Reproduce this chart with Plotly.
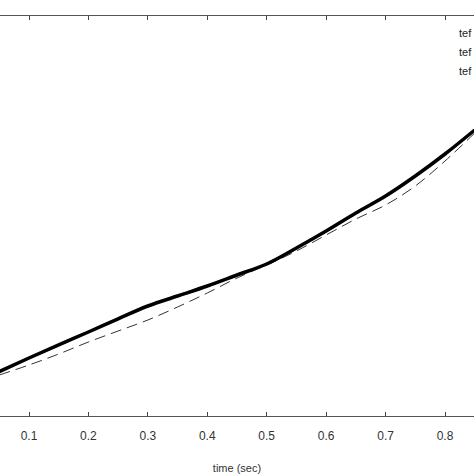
import plotly.graph_objects as go

# time axis (sec)
time_s = [0.05, 0.10, 0.15, 0.20, 0.25, 0.30, 0.35, 0.40, 0.45, 0.50,
          0.55, 0.60, 0.65, 0.70, 0.75, 0.80, 0.85]
# series values (arbitrary units)
series_solid = [0.111, 0.145, 0.178, 0.210, 0.243, 0.275, 0.300, 0.325, 0.3525, 0.380,
                0.420, 0.4625, 0.5075, 0.550, 0.600, 0.655, 0.715]
series_dashed = [0.1025, 0.1275, 0.155, 0.185, 0.2125, 0.240, 0.2725, 0.3075, 0.345, 0.3775,
                 0.4125, 0.4525, 0.4925, 0.5275, 0.575, 0.6375, 0.7075]
series_dotted = [0.114, 0.148, 0.181, 0.213, 0.246, 0.278, 0.303, 0.328, 0.355, 0.382,
                 0.423, 0.466, 0.511, 0.554, 0.604, 0.659, 0.718]
legend_names = ["tef", "tef", "tef"]
legend_y = [0.9575, 0.91, 0.8625]
tick_vals = [0.1, 0.2, 0.3, 0.4, 0.5, 0.6, 0.7, 0.8, 0.9]
tick_text = ["0.1", "0.2", "0.3", "0.4", "0.5", "0.6", "0.7", "0.8", "0.9"]

X_RANGE = [0.0512, 0.8488]
FONT = "Liberation Sans, Arial"

fig = go.Figure()
fig.add_trace(go.Scatter(x=time_s, y=series_dotted, mode="lines", name=legend_names[2],
                         line=dict(color="#d8d8d8", width=1, dash="dot", shape="spline")))
fig.add_trace(go.Scatter(x=time_s, y=series_dashed, mode="lines", name=legend_names[1],
                         line=dict(color="#333333", width=1, dash="11px,6px", shape="spline")))
fig.add_trace(go.Scatter(x=time_s, y=series_solid, mode="lines", name=legend_names[0],
                         line=dict(color="black", width=3.5, shape="spline")))

for nm, yv in zip(legend_names, legend_y):
    fig.add_annotation(x=X_RANGE[1], y=yv, xref="x", yref="y",
                       text=nm, showarrow=False, xanchor="right", yanchor="middle",
                       font=dict(family=FONT, size=11, color="#222"))

fig.update_layout(
    width=474, height=474,
    margin=dict(l=0, r=0, t=16, b=58, pad=0),
    paper_bgcolor="white", plot_bgcolor="white",
    showlegend=False,
    xaxis=dict(range=X_RANGE, tickvals=tick_vals, ticktext=tick_text,
               ticks="inside", ticklen=4, tickcolor="#444", mirror="ticks",
               showline=True, linecolor="#555", linewidth=1, showgrid=False, zeroline=False,
               automargin=False, ticklabelstandoff=9,
               tickfont=dict(family=FONT, size=12, color="#333"),
               title=dict(text="time (sec)", standoff=30,
                          font=dict(family=FONT, size=11, color="#333"))),
    yaxis=dict(range=[0, 1], visible=False, showgrid=False, zeroline=False, automargin=False),
)

fig.write_html("out.html", config={"displayModeBar": False},
               post_script="document.body.style.margin='0';document.body.style.overflow='hidden';")
